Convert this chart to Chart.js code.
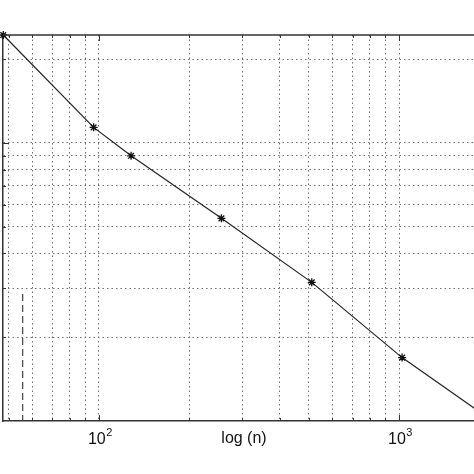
<!DOCTYPE html>
<html>
<head>
<meta charset="utf-8">
<script src="https://cdn.jsdelivr.net/npm/chart.js@4.4.1/dist/chart.umd.min.js"></script>
<style>
  html, body { margin: 0; padding: 0; background: #fff; }
  #wrap { width: 474px; height: 474px; }
</style>
</head>
<body>
<div id="wrap"><canvas id="errChart" width="474" height="474"></canvas></div>
<script>
// main series
const nValues = [48, 96, 128, 256, 512, 1024, 2048];
const errValues = [2.44, 1.136, 0.898, 0.535, 0.315, 0.169, 0.1];

// dashed series, only a piece of it shows at the left
const dashN = [55.7, 55.7];
const dashErr = [0.286, 0.1];

// grid lines
const xGrid = [50, 60, 70, 80, 90, 100, 200, 300, 400, 500, 600, 700, 800, 900, 1000];
const yGrid = [0.2, 0.3, 0.4, 0.5, 0.6, 0.7, 0.8, 0.9, 1, 2];

// x tick labels (10^exp)
const xLabelValues = [100, 1000];
const xLabelExps = ["2", "3"];
const xTitle = "log (n)";

const axisColor = "#333";
const gridColor = "#6e6e6e";

const mainData = nValues.map((n, i) => ({ x: n, y: errValues[i] }));
const dashData = dashN.map((n, i) => ({ x: n, y: dashErr[i] }));

// draws frame top, inner tick marks and the labels, matlab style
const matlabAxes = {
    id: "matlabAxes",
    afterDraw(chart) {
        const ctx = chart.ctx;
        const a = chart.chartArea;
        const xs = chart.scales.x;
        const ys = chart.scales.y;
        ctx.save();

        ctx.strokeStyle = axisColor;
        ctx.lineWidth = 1.5;
        ctx.beginPath();
        ctx.moveTo(a.left, a.top);
        ctx.lineTo(a.right, a.top);
        ctx.stroke();

        ctx.lineWidth = 1;
        ctx.beginPath();
        xGrid.forEach(v => {
            const px = Math.round(xs.getPixelForValue(v)) + 0.5;
            const len = xLabelValues.includes(v) ? 6 : 3;
            ctx.moveTo(px, a.bottom);
            ctx.lineTo(px, a.bottom - len);
            ctx.moveTo(px, a.top);
            ctx.lineTo(px, a.top + len);
        });
        yGrid.forEach(v => {
            const py = Math.round(ys.getPixelForValue(v)) + 0.5;
            const len = (v === 1) ? 6 : 3;
            ctx.moveTo(a.left, py);
            ctx.lineTo(a.left + len, py);
        });
        ctx.stroke();

        ctx.fillStyle = "#111";
        ctx.textBaseline = "alphabetic";
        xLabelValues.forEach((v, i) => {
            const px = xs.getPixelForValue(v);
            ctx.font = "16px 'Liberation Sans', Arial, sans-serif";
            const wBase = ctx.measureText("10").width;
            ctx.font = "11px 'Liberation Sans', Arial, sans-serif";
            const wExp = ctx.measureText(xLabelExps[i]).width;
            const start = px - (wBase + wExp) / 2 + 1;
            ctx.font = "16px 'Liberation Sans', Arial, sans-serif";
            ctx.textAlign = "left";
            ctx.fillText("10", start, 444);
            ctx.font = "11px 'Liberation Sans', Arial, sans-serif";
            ctx.fillText(xLabelExps[i], start + wBase + 0.5, 436);
        });

        ctx.font = "16px 'Liberation Sans', Arial, sans-serif";
        ctx.textAlign = "center";
        ctx.fillText(xTitle, 244, 443);
        ctx.restore();
    }
};

new Chart(document.getElementById("errChart"), {
    type: "scatter",
    data: {
        datasets: [
            {
                data: mainData,
                showLine: true,
                borderColor: "#222",
                borderWidth: 1.2,
                pointStyle: "star",
                pointRadius: 4,
                pointBorderColor: "#111",
                pointBorderWidth: 1.3,
                pointBackgroundColor: "#111",
                clip: false
            },
            {
                data: dashData,
                showLine: true,
                borderColor: "#444",
                borderWidth: 1.2,
                borderDash: [7, 4],
                pointRadius: 0,
                clip: false
            }
        ]
    },
    plugins: [matlabAxes],
    options: {
        responsive: false,
        animation: false,
        events: [],
        layout: { autoPadding: false, padding: { left: 3, top: 35, right: 0, bottom: 53 } },
        plugins: {
            legend: { display: false },
            tooltip: { enabled: false }
        },
        scales: {
            x: {
                type: "logarithmic",
                min: 47.9,
                max: 1778,
                afterBuildTicks: s => { s.ticks = xGrid.map(v => ({ value: v })); },
                afterFit: s => { s.height = 0; s.paddingLeft = 0; s.paddingRight = 0; },
                ticks: { display: false },
                grid: {
                    color: gridColor,
                    lineWidth: 1,
                    drawTicks: false
                },
                border: { display: true, color: axisColor, width: 1.5, dash: [1.5, 3] }
            },
            y: {
                type: "logarithmic",
                min: 0.1,
                max: 2.44,
                afterBuildTicks: s => { s.ticks = yGrid.map(v => ({ value: v })); },
                afterFit: s => { s.width = 0; s.paddingTop = 0; s.paddingBottom = 0; },
                ticks: { display: false },
                grid: {
                    color: gridColor,
                    lineWidth: 1,
                    drawTicks: false
                },
                border: { display: true, color: axisColor, width: 1.5, dash: [1.5, 3] }
            }
        }
    }
});
</script>
</body>
</html>
